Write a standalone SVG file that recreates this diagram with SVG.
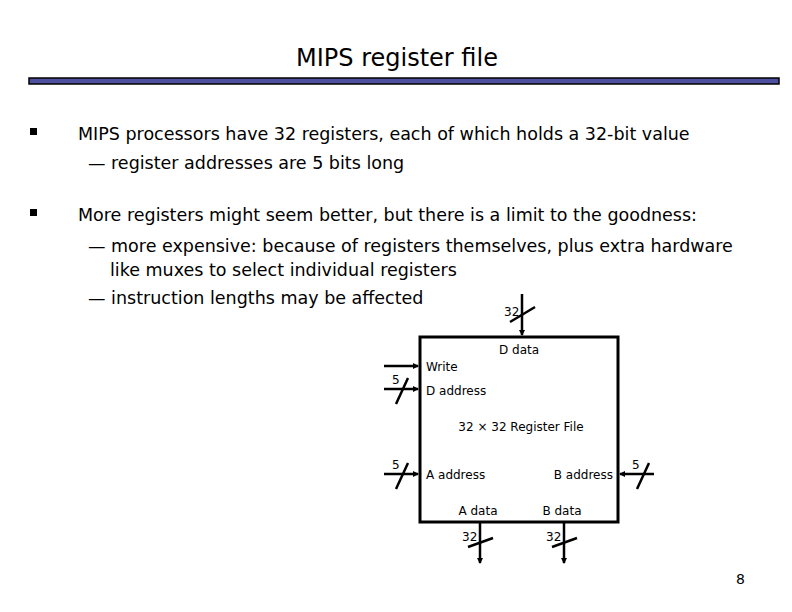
<svg xmlns="http://www.w3.org/2000/svg" width="792" height="612" viewBox="0 0 792 612">
<style>
text{font-family:"DejaVu Sans","Liberation Sans",sans-serif;fill:#000}
.b{font-size:17.5px}
.s{font-size:12px}
.w{stroke:#000;stroke-width:2.5;fill:none}
</style>
<defs><marker id="a" markerWidth="6" markerHeight="6" refX="5" refY="3" orient="auto" markerUnits="userSpaceOnUse"><path d="M0,0L6,3L0,6z"/></marker></defs>
<rect width="792" height="612" fill="#fff"/>
<text x="397" y="66" text-anchor="middle" style="font-size:24px">MIPS register file</text>
<rect x="29" y="78" width="750" height="6" fill="#4f4f9f" stroke="#000" stroke-width="1.5"/>
<g class="b">
<rect x="30" y="128" width="7" height="7" fill="#000"/>
<text x="78" y="140">MIPS processors have 32 registers, each of which holds a 32-bit value</text>
<text x="88" y="169">— register addresses are 5 bits long</text>
<rect x="30" y="209" width="7" height="7" fill="#000"/>
<text x="78" y="221">More registers might seem better, but there is a limit to the goodness:</text>
<text x="88" y="252">— more expensive: because of registers themselves, plus extra hardware</text>
<text x="110" y="276">like muxes to select individual registers</text>
<text x="88" y="304">— instruction lengths may be affected</text>
</g>
<g id="regfile">
<rect x="420" y="337" width="198" height="185" fill="none" stroke="#000" stroke-width="3"/>
<g class="s">
<text x="519" y="354" text-anchor="middle">D data</text>
<text x="426" y="371">Write</text>
<text x="426" y="395">D address</text>
<text x="521" y="431" text-anchor="middle">32 × 32 Register File</text>
<text x="426" y="479">A address</text>
<text x="613" y="479" text-anchor="end">B address</text>
<text x="478" y="515" text-anchor="middle">A data</text>
<text x="562" y="515" text-anchor="middle">B data</text>
</g>
</g>
<g id="connectors" class="s">
<line class="w" x1="522" y1="294" x2="522" y2="335" marker-end="url(#a)"/>
<line class="w" x1="510" y1="322" x2="535" y2="307"/>
<text x="504" y="316">32</text>
<line class="w" x1="384" y1="366" x2="418" y2="366" marker-end="url(#a)"/>
<line class="w" x1="384" y1="389" x2="418" y2="389" marker-end="url(#a)"/>
<line class="w" x1="396" y1="404" x2="408" y2="378"/>
<text x="392" y="384">5</text>
<line class="w" x1="384" y1="474" x2="418" y2="474" marker-end="url(#a)"/>
<line class="w" x1="396" y1="489" x2="408" y2="463"/>
<text x="392" y="469">5</text>
<line class="w" x1="654" y1="474" x2="620" y2="474" marker-end="url(#a)"/>
<line class="w" x1="637" y1="489" x2="649" y2="463"/>
<text x="632" y="469">5</text>
<line class="w" x1="480" y1="522" x2="480" y2="563" marker-end="url(#a)"/>
<line class="w" x1="468" y1="547" x2="493" y2="538"/>
<text x="462" y="541">32</text>
<line class="w" x1="564" y1="522" x2="564" y2="563" marker-end="url(#a)"/>
<line class="w" x1="552" y1="547" x2="577" y2="538"/>
<text x="546" y="541">32</text>
</g>
<text x="736" y="584" style="font-size:14px">8</text>
</svg>
